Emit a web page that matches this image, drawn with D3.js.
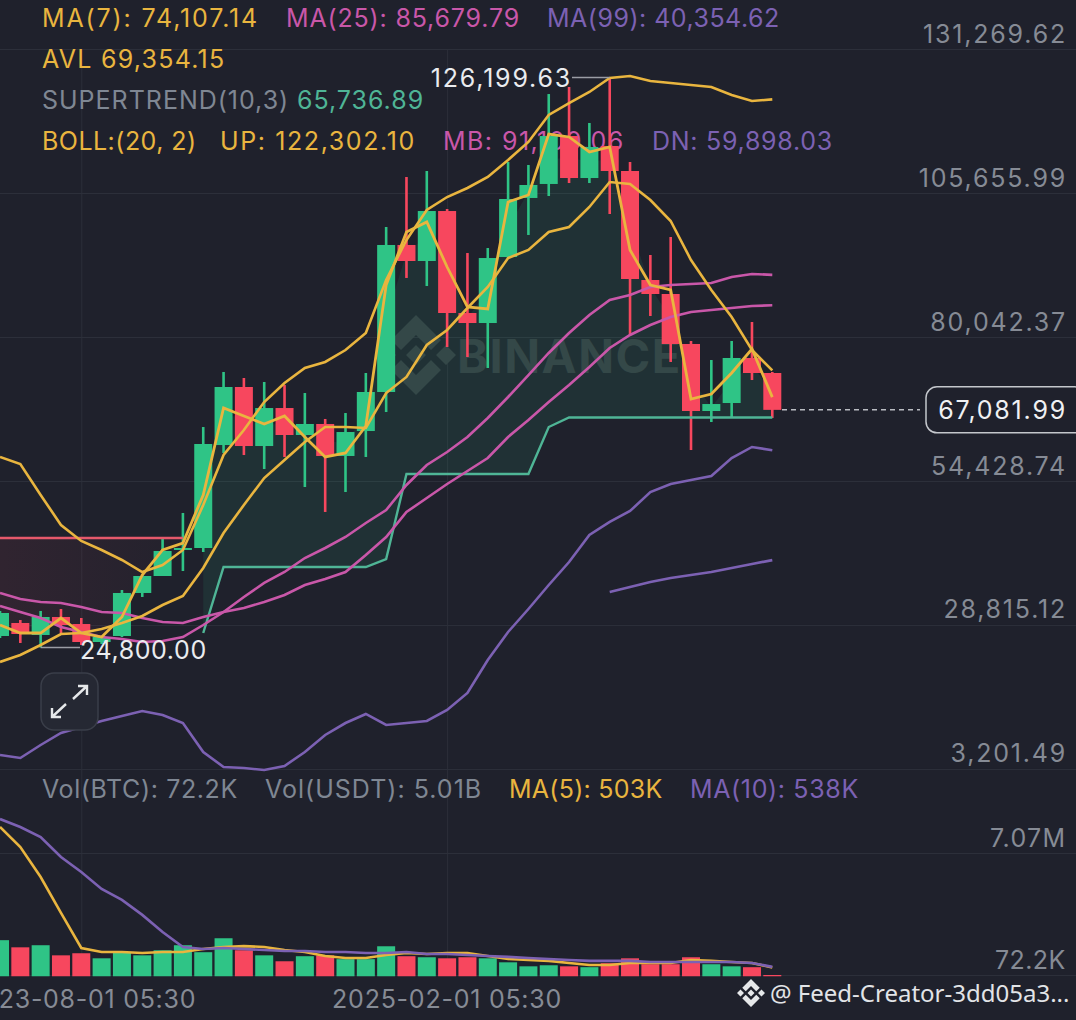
<!DOCTYPE html>
<html>
<head>
<meta charset="utf-8">
<script src="https://cdn.jsdelivr.net/npm/d3@7"></script>
<style>
	html, body { margin: 0; padding: 0; background: #1f212c; overflow: hidden; }
	svg { display: block; }
	text { font-family: Inter, "Noto Sans", sans-serif; }
	.label { font-size: 25px; letter-spacing: 1.8px; }
</style>
</head>
<body>
<svg id="chart"></svg>
<script>
// Candles, one entry per month, oldest first
var opens = [26860,29170,27040,30240,28990,25790,26860,34510,37530,42160,42510,60830,71150,60650,67410,62610,64570,58880,63320,70260,96410,93560,102450,84310,82530,94270,104770,107260,115790,108320,114020,109570,90180,87690,78800,66880,68300,76310,73640];
var highs = [31310,29705,31310,31660,30060,26860,35040,37710,44110,48740,64030,73820,72750,72040,71500,70080,65460,66520,73640,99610,108500,109570,102810,94980,95870,111170,110640,123260,124510,118110,126199.63,111170,94630,97830,79330,75950,79330,82710,73820];
var lows = [26500,25615,24800,27390,25260,25440,26680,33800,37530,38420,41800,59410,59050,56560,58700,53360,48920,52470,58700,66700,90540,89110,78260,76480,74530,94090,98190,105120,107430,107430,101920,80400,83780,75600,59940,64920,65640,72390,65640];
var closes = [30950,27215,30240,28815,25790,26680,34510,37530,41980,42510,61010,71150,60650,67410,62610,64570,58880,63140,70260,96410,93560,102450,84310,82530,94090,104590,107080,115790,108320,113840,109570,90360,87690,78800,66880,68120,76310,73640,67081.99];

// Moving averages and indicators
var avlLine = [28815,27390,27390,30060,27390,26680,30240,37710,42160,43400,51940,67410,65990,64570,65990,62260,58700,59410,64210,89290,98720,100500,92490,85380,85020,104050,105300,116150,115620,112950,113840,95520,89290,88400,69010,69900,73640,77910,69354.15];
var ma7 = [22235,23480,25260,27215,27390,28100,29170,30420,32370,33970,38950,45180,50160,54960,58160,61370,64030,64030,63860,70080,72930,78620,81290,85200,88940,94090,95520,98720,99610,103170,107610,107260,104410,100680,93740,88400,83600,77730,74107.14];
var ma25 = [34510,33440,32910,32730,32020,31130,30950,30060,29350,29170,30240,31130,31840,32910,34150,35930,37000,38240,41270,44470,48920,51400,53900,56210,58520,62260,65280,68480,71500,74710,78090,80400,82180,83600,84490,84850,85200,85560,85679.79];
var ma99 = [null,null,null,null,null,null,null,null,null,null,null,null,null,null,null,null,null,null,null,null,null,null,null,null,null,null,null,null,null,null,34690,35580,36460,37180,37710,38240,38950,39670,40354.62];
var bollUp = [58700,57450,51940,46600,43760,42160,40380,38240,39490,42160,50160,59050,63500,68480,71860,74530,75600,77730,80750,90180,97300,102630,104940,106550,108500,111530,114730,119530,121660,123620,126110,126470,125580,125220,124870,124510,123090,122020,122302.10];
var bollMid = [32195,31130,30060,28460,27570,26680,26330,25790,25970,26680,28815,31130,33800,36290,38240,40730,42510,44470,46960,49270,53720,57270,59590,62260,65640,69370,73280,77200,80750,83960,86620,87510,88940,89290,89470,89650,90710,91250,91100.06];
var bollDown = [5690,5160,7470,9610,10670,11740,12630,13520,12810,11380,6230,3560,3380,3025,3740,6230,9250,11380,12990,11030,11380,11740,13700,16720,22590,27570,31660,35930,40020,44820,47140,49090,52470,53900,54610,55320,58520,60480,59898.03];
var superDown = [44290,44290,44290,44290,44290,44290,44290,44290,44290,44290,null,null,null,null,null,null,null,null,null,null,null,null,null,null,null,null,null,null,null,null,null,null,null,null,null,null,null,null,null];
var superUp = [null,null,null,null,null,null,null,null,null,null,27390,39130,39130,39130,39130,39130,39130,39130,39130,40550,55670,55670,55670,55670,55670,55670,55670,64030,65736.89,65736.89,65736.89,65736.89,65736.89,65736.89,65736.89,65736.89,65736.89,65736.89,65736.89];

// Volume pane, in BTC
var volumes = [2070000,1660000,1780000,1200000,1320000,1030000,1380000,1200000,1490000,1780000,1380000,2180000,1490000,1200000,860000,1150000,1200000,980000,980000,1720000,1150000,1090000,1030000,1090000,1030000,800000,570000,630000,570000,520000,750000,1030000,690000,690000,1090000,690000,570000,520000,72200];
var volMa5 = [8560000,7410000,5690000,3630000,1620000,1390000,1390000,1330000,1390000,1390000,1560000,1680000,1730000,1680000,1510000,1390000,1160000,1050000,1050000,1220000,1330000,1280000,1330000,1330000,1160000,990000,930000,880000,760000,650000,650000,760000,760000,760000,930000,880000,820000,760000,503000];
var volMa10 = [9020000,8560000,7990000,6840000,5980000,5010000,4380000,3520000,2540000,1680000,1560000,1620000,1560000,1510000,1450000,1450000,1390000,1390000,1330000,1330000,1390000,1280000,1280000,1220000,1160000,1110000,1050000,990000,930000,880000,880000,880000,820000,820000,820000,820000,820000,760000,538000];

// Axis ticks
var priceTicks = [131269.62, 105655.99, 80042.37, 54428.74, 28815.12, 3201.49];
var volTicks = [7070000, 72200];
var volTickLabels = ["7.07M", "72.2K"];
var dateTicks = [4, 22];
var dateLabels = ["2023-08-01 05:30", "2025-02-01 05:30"];

var lastPrice = 67081.99, allHigh = 126199.63, allLow = 24800;

var width = 1076, height = 1020;

var bg = "#1f212c", grid = "#2c2f3a", tickColor = "#868b95";
var up = "#2fc486", down = "#f7475e";
var yellow = "#e9b53f", pink = "#c957a9", purple = "#7c61b3", teal = "#4fb596", legendGrey = "#7f8793";

var svg = d3.select("#chart").attr("width", width).attr("height", height);

svg.append("rect").attr("width", width).attr("height", height).attr("fill", bg);

var x = d3.scaleLinear().domain([0, 38]).range([0, 772.3]);
var y = d3.scaleLinear().domain([54428.74, 80042.37]).range([481, 337]);
var yVol = d3.scaleLinear().domain([72200, 7070000]).range([975, 853]);
var candleWidth = 18;

// Grid, drawn by the axes; tick labels sit above their line
var xAxis = d3.axisBottom(x).tickValues(dateTicks).tickSize(-926)
	.tickFormat(function(d) { return dateLabels[dateTicks.indexOf(d)]; });

var gx = svg.append("g").attr("transform", "translate(0,975)").call(xAxis);
gx.select(".domain").remove();
gx.selectAll("line").attr("stroke", grid).attr("stroke-width", 1);
gx.selectAll("text").attr("class", "label").attr("y", 33).attr("dy", 0).attr("fill", tickColor)
	.attr("textLength", 231);

var yAxis = d3.axisRight(y).tickValues(priceTicks).tickSize(width)
	.tickFormat(d3.format(",.2f"));

var gy = svg.append("g").call(yAxis);
gy.select(".domain").remove();
gy.selectAll("line").attr("stroke", grid).attr("stroke-width", 1);
gy.selectAll("text").attr("class", "label").attr("x", 1067).attr("dy", -7).attr("text-anchor", "end")
	.attr("fill", tickColor);

var volAxis = d3.axisRight(yVol).tickValues(volTicks).tickSize(width)
	.tickFormat(function(d) { return volTickLabels[volTicks.indexOf(d)]; });

var gv = svg.append("g").call(volAxis);
gv.select(".domain").remove();
gv.selectAll("line").attr("stroke", grid).attr("stroke-width", 1);
gv.selectAll("text").attr("class", "label").attr("x", 1067).attr("dy", -7).attr("text-anchor", "end")
	.attr("fill", tickColor)
	.attr("textLength", function(d) { return d === 72200 ? 72 : 77; });

// Binance mark: centre square, two side squares and two chevrons
function binanceMark(parent, cx, cy, r, colour) {
	var s = r / 8;
	var d = "M0,-2L2,0L0,2L-2,0Z" +
		"M-6,-2L-4,0L-6,2L-8,0Z M6,-2L8,0L6,2L4,0Z" +
		"M0,-8L5,-3L3,-1L0,-4L-3,-1L-5,-3Z" +
		"M0,8L5,3L3,1L0,4L-3,1L-5,3Z";
	parent.append("path")
		.attr("transform", "translate(" + cx + "," + cy + ") scale(" + s + ")")
		.attr("d", d)
		.attr("fill", colour);
}

// Watermark sits under everything
binanceMark(svg, 416, 355, 40, "#353a41");
svg.append("text")
	.attr("x", 457).attr("y", 373)
	.attr("fill", "#353a41")
	.style("font-size", "47px").style("font-weight", 700).style("letter-spacing", "1.5px")
	.text("BINANCE");

// Legend rows, also under the candles. Each one is stretched to the width it has in the app
function legend(xPos, yPos, label, colour, textWidth) {
	return svg.append("text")
		.attr("class", "label")
		.attr("x", xPos).attr("y", yPos)
		.attr("fill", colour)
		.attr("textLength", textWidth)
		.text(label);
}

legend(42, 27, "MA(7): 74,107.14", yellow, 217);
legend(286, 27, "MA(25): 85,679.79", pink, 235);
legend(547, 27, "MA(99): 40,354.62", purple, 234);
legend(42, 68, "AVL 69,354.15", yellow, 184);
legend(42, 109, "SUPERTREND(10,3)", legendGrey, 248);
legend(297, 109, "65,736.89", teal, 128);
legend(42, 150, "BOLL:(20, 2)", yellow, 156);
legend(220, 150, "UP: 122,302.10", yellow, 196);
legend(443, 150, "MB: 91,100.06", pink, 182);
legend(652, 150, "DN: 59,898.03", purple, 182);
legend(42, 798, "Vol(BTC): 72.2K", legendGrey, 197);
legend(265, 798, "Vol(USDT): 5.01B", legendGrey, 218);
legend(509, 798, "MA(5): 503K", yellow, 155);
legend(690, 798, "MA(10): 538K", purple, 170);

// Supertrend fill runs between the line and the middle of the candle bodies
var indexes = d3.range(opens.length);

var defs = svg.append("defs");

var redFill = defs.append("linearGradient").attr("id", "redFill")
	.attr("x1", 0).attr("y1", 0).attr("x2", 1).attr("y2", 0);
redFill.append("stop").attr("offset", "0%").attr("stop-color", down).attr("stop-opacity", 0.08);
redFill.append("stop").attr("offset", "100%").attr("stop-color", down).attr("stop-opacity", 0.02);

function bodyMiddle(i) { return (opens[i] + closes[i]) / 2; }

var bandArea = d3.area()
	.x(function(i) { return x(i); })
	.y0(function(i) { return y(bodyMiddle(i)); });

svg.append("path")
	.datum(indexes.filter(function(i) { return superDown[i] !== null; }))
	.attr("d", bandArea.y1(function(i) { return y(superDown[i]); }))
	.attr("fill", "url(#redFill)");

svg.append("path")
	.datum(indexes.filter(function(i) { return superUp[i] !== null; }))
	.attr("d", bandArea.y1(function(i) { return y(superUp[i]); }))
	.attr("fill", up)
	.attr("fill-opacity", 0.1);

// Candles
var candles = svg.append("g").selectAll("g")
	.data(indexes)
	.enter()
	.append("g")
	.attr("fill", function(i) { return closes[i] >= opens[i] ? up : down; });

candles.append("rect")
	.attr("x", function(i) { return x(i) - 1.3; })
	.attr("width", 2.6)
	.attr("y", function(i) { return y(highs[i]); })
	.attr("height", function(i) { return y(lows[i]) - y(highs[i]); });

candles.append("rect")
	.attr("x", function(i) { return x(i) - candleWidth / 2; })
	.attr("width", candleWidth)
	.attr("y", function(i) { return y(Math.max(opens[i], closes[i])); })
	.attr("height", function(i) { return Math.abs(y(opens[i]) - y(closes[i])); });

// Volume bars
svg.append("g").selectAll("rect")
	.data(indexes)
	.enter()
	.append("rect")
	.attr("x", function(i) { return x(i) - candleWidth / 2; })
	.attr("width", candleWidth)
	.attr("y", function(i) { return yVol(volumes[i]); })
	.attr("height", function(i) { return yVol(0) - yVol(volumes[i]); })
	.attr("fill", function(i) { return closes[i] >= opens[i] ? up : down; });

// All the indicator lines
function drawLine(values, scale, colour, lineWidth) {
	var line = d3.line()
		.defined(function(i) { return values[i] !== null; })
		.x(function(i) { return x(i); })
		.y(function(i) { return scale(values[i]); });

	svg.append("path")
		.datum(indexes)
		.attr("d", line)
		.attr("fill", "none")
		.attr("stroke", colour)
		.attr("stroke-width", lineWidth);
}

drawLine(superDown, y, "#e5596b", 2.4);
drawLine(superUp, y, teal, 2.4);
drawLine(bollDown, y, purple, 2.6);
drawLine(ma99, y, purple, 2.6);
drawLine(bollMid, y, pink, 2.6);
drawLine(ma25, y, pink, 2.6);
drawLine(bollUp, y, yellow, 2.6);
drawLine(ma7, y, yellow, 2.6);
drawLine(avlLine, y, yellow, 2.8);
drawLine(volMa5, yVol, yellow, 2.6);
drawLine(volMa10, yVol, purple, 2.6);

// High and low markers
svg.append("line").attr("x1", x(30)).attr("x2", 572)
	.attr("y1", y(allHigh)).attr("y2", y(allHigh))
	.attr("stroke", "#9a9da5").attr("stroke-width", 1.5);
svg.append("text").attr("class", "label").attr("x", 572).attr("y", y(allHigh) + 9)
	.attr("text-anchor", "end").attr("fill", "#eaecef")
	.text(d3.format(",.2f")(allHigh));

svg.append("line").attr("x1", x(2)).attr("x2", 80)
	.attr("y1", y(allLow)).attr("y2", y(allLow))
	.attr("stroke", "#9a9da5").attr("stroke-width", 1.5);
svg.append("text").attr("class", "label").attr("x", 80).attr("y", y(allLow) + 11)
	.attr("fill", "#eaecef")
	.attr("textLength", 128)
	.text(d3.format(",.2f")(allLow));

// Current price line and box
svg.append("line").attr("x1", 782).attr("x2", 920)
	.attr("y1", y(lastPrice)).attr("y2", y(lastPrice))
	.attr("stroke", "#b9bcc2").attr("stroke-width", 1.5).attr("stroke-dasharray", "5,4");
svg.append("rect").attr("x", 926).attr("y", y(lastPrice) - 23)
	.attr("width", 160).attr("height", 46).attr("rx", 11)
	.attr("fill", bg).attr("stroke", "#c4c7cc").attr("stroke-width", 1.5);
svg.append("text").attr("class", "label").attr("x", 1067).attr("y", y(lastPrice) + 9)
	.attr("text-anchor", "end").attr("fill", "#f0f1f3")
	.text(d3.format(",.2f")(lastPrice));

// Expand button
svg.append("rect").attr("x", 41).attr("y", 673).attr("width", 57).attr("height", 57).attr("rx", 13)
	.attr("fill", "#252833").attr("stroke", "#3a3e49").attr("stroke-width", 1.5);
svg.append("path")
	.attr("d", "M78,686L87,686L87,695M87,686L73,699 M61,717L52,717L52,708M52,717L66,704")
	.attr("fill", "none").attr("stroke", "#e6e8ea").attr("stroke-width", 2.4);

// Repost tag in the bottom corner
binanceMark(svg, 751, 993, 14, "#e6e8ea");
svg.append("text").attr("x", 770).attr("y", 1002)
	.attr("fill", "#e2e4e7")
	.style("font-family", "'Noto Sans', sans-serif").style("font-size", "24px")
	.text("@ Feed-Creator-3dd05a3...");
</script>
</body>
</html>
